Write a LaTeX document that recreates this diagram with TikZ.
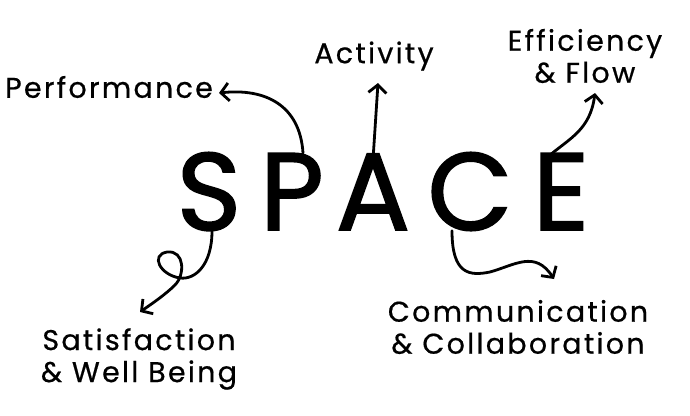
\documentclass[tikz,border=0pt]{standalone}
\usepackage{fontspec}
\setmainfont{Poppins}
\newfontfamily\bigfont[FakeBold=1.6]{Poppins}
\newfontfamily\labelfont[LetterSpace=8,FakeBold=0.6]{Poppins}
\usetikzlibrary{arrows.meta}

\begin{document}
\begin{tikzpicture}[x=1pt,y=-1pt,
  letter/.style={inner sep=0pt,anchor=base,font=\bigfont\fontsize{110}{110}\selectfont},
  lbl/.style={inner sep=0pt,align=center,font=\labelfont\fontsize{28.5}{32}\selectfont},
  swirl/.style={line width=2.8pt,line cap=round,-{Straight Barb[length=8pt,width=18pt]}}]
\useasboundingbox (0,0) rectangle (690,415);

% the big word
\node[letter] (S) at (209,230) {S};
\node[letter] (P) at (292,230) {P};
\node[letter] (A) at (373,230) {A};
\node[letter] (C) at (470,230) {C};
\node[letter] (E) at (561,230) {E};

% labels
\node[lbl] (perf) at (109,87) {Performance};
\node[lbl] (act) at (374,56) {Activity};
\node[lbl] (eff) at (585,56) {Efficiency\\\& Flow};
\node[lbl] (sat) at (139,359) {Satisfaction\\\& Well Being};
\node[lbl] (comm) at (518,327) {Communication\\\& Collaboration};

% arrow tips
\coordinate (perftip) at (219,93);
\coordinate (acttip) at (378,83);
\coordinate (efftip) at (595,93);
\coordinate (commtip) at (554,279);
\coordinate (sattip) at (140,312);

\draw[swirl] ([xshift=11pt]P.north) .. controls (300,105) and (265,88) .. (perftip);
\draw[swirl] ([yshift=-6pt]A.north) -- (acttip);
\draw[swirl] ([xshift=15pt,yshift=-4pt]E.north west) .. controls (570,138) and (590,130) .. (efftip);
\draw[swirl] ([xshift=-18pt]C.south) .. controls (452,275) and (470,276) .. (490,272)
  .. controls (515,265) and (535,250) .. (commtip);
\draw[swirl] ([xshift=3pt]S.south) .. controls (212,265) and (195,280) .. (180,278)
  .. controls (160,275) and (150,255) .. (167,252)
  .. controls (185,250) and (185,275) .. (175,285)
  .. controls (165,295) and (150,305) .. (sattip);
\end{tikzpicture}
\end{document}
